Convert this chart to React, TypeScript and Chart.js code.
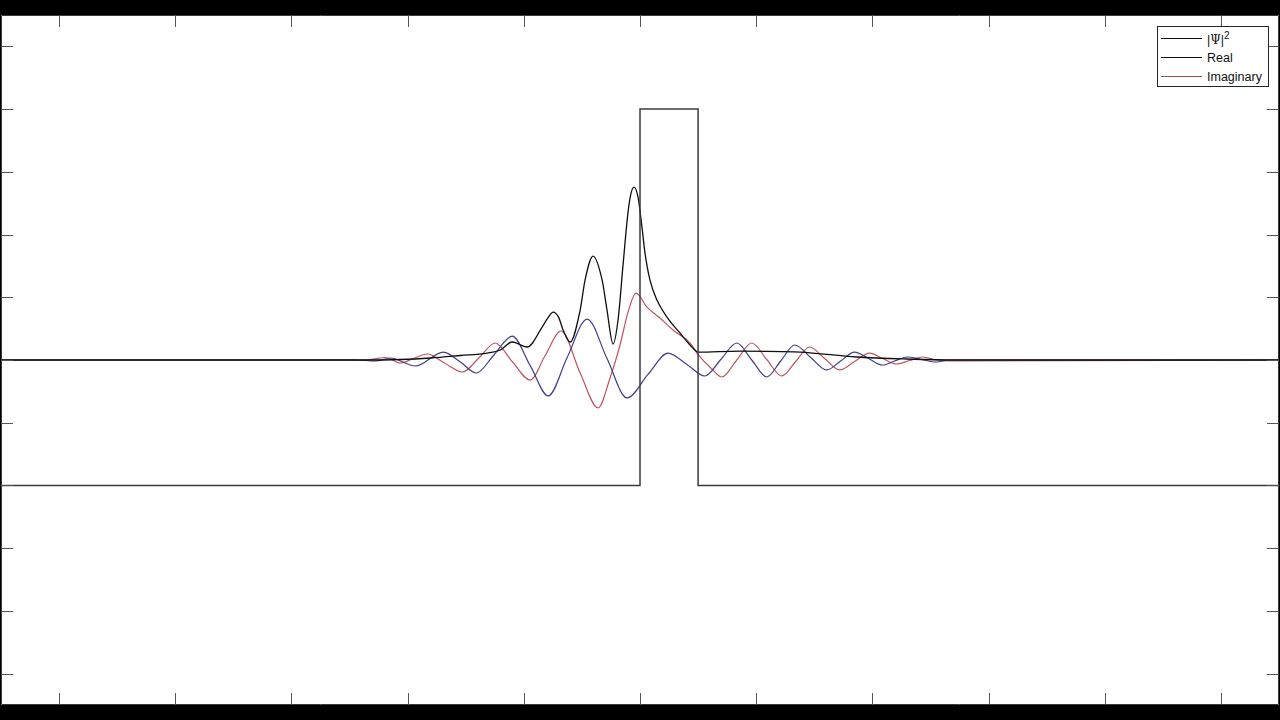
import React, { useEffect, useRef } from "react";
import { Chart, registerables } from "chart.js";

Chart.register(...registerables);

// Axis tick values (labels are not shown in the reference)
const xTickValues = [-5, -4, -3, -2, -1, 0, 1, 2, 3, 4, 5];
const yTickValues = [-5, -4, -3, -2, -1, 0, 1, 2, 3, 4, 5];

// Probability density |Psi|^2
const probX = [-5.5, -2.921, -2.405, -2.062, -1.804, -1.546, -1.314, -1.203, -1.1, -0.971, -0.842, -0.79, -0.747, -0.7, -0.662, -0.601, -0.515, -0.473, -0.404, -0.326, -0.284, -0.232, -0.189, -0.146, -0.103, -0.077, -0.052, -0.017, 0.017, 0.043, 0.086, 0.146, 0.232, 0.344, 0.455, 0.498, 0.859, 1.375, 1.864, 2.294, 2.749, 5.5];
const probY = [0, 0, 0, 0.008, 0.032, 0.072, 0.111, 0.159, 0.287, 0.207, 0.525, 0.68, 0.764, 0.68, 0.478, 0.287, 0.796, 1.274, 1.656, 1.274, 0.796, 0.255, 0.637, 1.513, 2.357, 2.659, 2.755, 2.596, 2.118, 1.704, 1.274, 0.955, 0.685, 0.43, 0.191, 0.127, 0.143, 0.127, 0.048, 0.016, 0, 0];

// Real part
const realX = [-5.5, -2.448, -2.277, -2.148, -1.933, -1.692, -1.546, -1.409, -1.254, -1.1, -0.945, -0.79, -0.627, -0.455, -0.284, -0.112, 0.069, 0.241, 0.404, 0.558, 0.696, 0.833, 0.962, 1.091, 1.211, 1.332, 1.469, 1.607, 1.727, 1.847, 1.967, 2.088, 2.191, 2.302, 2.423, 2.552, 2.663, 5.5];
const realY = [0, 0, -0.016, 0.032, -0.096, 0.127, -0.032, -0.207, 0.088, 0.382, -0.09, -0.573, 0.04, 0.653, 0.024, -0.605, -0.23, 0.111, -0.07, -0.255, 0.008, 0.271, 0, -0.271, -0.016, 0.239, 0.04, -0.159, -0.016, 0.127, 0.024, -0.08, -0.016, 0.048, 0.008, -0.032, 0, 0];

// Imaginary part
const imagX = [-5.5, -2.448, -2.32, -2.191, -2.062, -1.95, -1.83, -1.684, -1.529, -1.383, -1.246, -1.1, -0.945, -0.816, -0.679, -0.515, -0.361, -0.258, -0.172, -0.103, -0.034, 0.06, 0.172, 0.284, 0.43, 0.49, 0.627, 0.704, 0.833, 0.962, 1.091, 1.22, 1.34, 1.46, 1.589, 1.718, 1.847, 1.976, 2.088, 2.208, 2.32, 2.431, 2.552, 2.663, 5.5];
const imagY = [0, 0, 0.008, 0.04, -0.048, 0.024, 0.096, -0.048, -0.191, 0.04, 0.271, -0.024, -0.318, 0.072, 0.462, -0.207, -0.764, -0.287, 0.239, 0.764, 1.067, 0.844, 0.67, 0.478, 0.271, 0.111, -0.159, -0.271, 0, 0.271, 0.008, -0.255, -0.024, 0.207, 0.024, -0.159, -0.024, 0.111, 0.024, -0.064, -0.008, 0.048, 0, -0.016, 0];

// Potential barrier
const potX = [-5.5, 0, 0, 0.5, 0.5, 5.5];
const potY = [-2, -2, 4, 4, -2, -2];

const legendLabels = ["Real", "Imaginary"];

const zip = (xs: number[], ys: number[]) => xs.map((x, i) => ({ x, y: ys[i] }));

const framePlugin = {
  id: "frame",
  beforeDraw(chart: any) {
    const { ctx, width, height, chartArea } = chart;
    ctx.save();
    ctx.fillStyle = "#000";
    ctx.fillRect(0, 0, width, height);
    ctx.fillStyle = "#fff";
    ctx.fillRect(chartArea.left, chartArea.top, chartArea.right - chartArea.left, chartArea.bottom - chartArea.top);
    ctx.restore();
  },
  afterDraw(chart: any) {
    const { ctx, chartArea } = chart;
    const { left, right, top, bottom } = chartArea;
    const xs = chart.scales.x;
    const ys = chart.scales.y;
    ctx.save();
    ctx.strokeStyle = "#3a3a3a";
    ctx.lineWidth = 1;
    ctx.beginPath();
    ctx.rect(left + 0.5, top + 0.5, right - left - 1, bottom - top - 1);
    ctx.stroke();
    ctx.strokeStyle = "#555";
    const len = 12;
    ctx.beginPath();
    xs.ticks.forEach((t: any) => {
      const px = Math.round(xs.getPixelForValue(t.value)) + 0.5;
      ctx.moveTo(px, bottom);
      ctx.lineTo(px, bottom - len);
      ctx.moveTo(px, top);
      ctx.lineTo(px, top + len);
    });
    ys.ticks.forEach((t: any) => {
      const py = Math.round(ys.getPixelForValue(t.value)) + 0.5;
      ctx.moveTo(left, py);
      ctx.lineTo(left + len, py);
      ctx.moveTo(right, py);
      ctx.lineTo(right - len, py);
    });
    ctx.stroke();
    ctx.restore();
  },
};

export default function App() {
  const ref = useRef<HTMLCanvasElement>(null);
  useEffect(() => {
    document.body.style.margin = "0";
    document.body.style.background = "#000";
    if (!ref.current) return;
    const chart = new Chart(ref.current, {
      type: "line",
      data: {
        datasets: [
          {
            label: "Potential",
            data: zip(potX, potY),
            borderColor: "rgb(60,60,60)",
            borderWidth: 1.5,
            pointRadius: 0,
            tension: 0,
          },
          {
            label: "|Ψ|²",
            data: zip(probX, probY),
            borderColor: "rgb(15,15,15)",
            borderWidth: 1.3,
            pointRadius: 0,
            cubicInterpolationMode: "monotone",
          },
          {
            label: legendLabels[0],
            data: zip(realX, realY),
            borderColor: "rgb(62,62,138)",
            borderWidth: 1.2,
            pointRadius: 0,
            cubicInterpolationMode: "monotone",
          },
          {
            label: legendLabels[1],
            data: zip(imagX, imagY),
            borderColor: "rgb(190,85,95)",
            borderWidth: 1.2,
            pointRadius: 0,
            cubicInterpolationMode: "monotone",
          },
        ],
      },
      options: {
        animation: false,
        responsive: false,
        devicePixelRatio: 1,
        parsing: false,
        layout: { padding: { top: 15, bottom: 15, left: 1, right: 1 } },
        plugins: { legend: { display: false }, tooltip: { enabled: false } },
        scales: {
          x: {
            type: "linear",
            min: -5.5,
            max: 5.5,
            display: false,
            afterBuildTicks: (s: any) => {
              s.ticks = xTickValues.map((v) => ({ value: v }));
            },
          },
          y: {
            type: "linear",
            min: -5.5,
            max: 5.5,
            display: false,
            afterBuildTicks: (s: any) => {
              s.ticks = yTickValues.map((v) => ({ value: v }));
            },
          },
        },
      },
      plugins: [framePlugin],
    });
    return () => chart.destroy();
  }, []);

  const rowStyle: React.CSSProperties = { display: "flex", alignItems: "center", height: 19, whiteSpace: "nowrap" };
  const lineStyle = (c: string): React.CSSProperties => ({ width: 41, height: 0, borderTop: `1px solid ${c}`, marginRight: 5, flex: "none" });

  return (
    <div style={{ position: "relative", width: 1280, height: 720, background: "#000" }}>
      <canvas ref={ref} width={1280} height={720} style={{ display: "block", width: 1280, height: 720 }} />
      <div
        style={{
          position: "absolute",
          left: 1157,
          top: 26,
          width: 112,
          height: 61,
          background: "#fff",
          border: "1px solid #262626",
          fontFamily: "'Liberation Sans', Arial, sans-serif",
          fontSize: 12.5,
          color: "#111",
          padding: "2px 0 0 3px",
          boxSizing: "border-box",
        }}
      >
        <div style={rowStyle}>
          <div style={lineStyle("#111")} />
          <span>
            |<span style={{ fontFamily: "'DejaVu Serif', serif", fontSize: 12 }}>Ψ</span>|
            <sup style={{ fontSize: 10 }}>2</sup>
          </span>
        </div>
        <div style={rowStyle}>
          <div style={lineStyle("#111")} />
          <span>{legendLabels[0]}</span>
        </div>
        <div style={rowStyle}>
          <div style={lineStyle("rgb(160,80,80)")} />
          <span>{legendLabels[1]}</span>
        </div>
      </div>
    </div>
  );
}
